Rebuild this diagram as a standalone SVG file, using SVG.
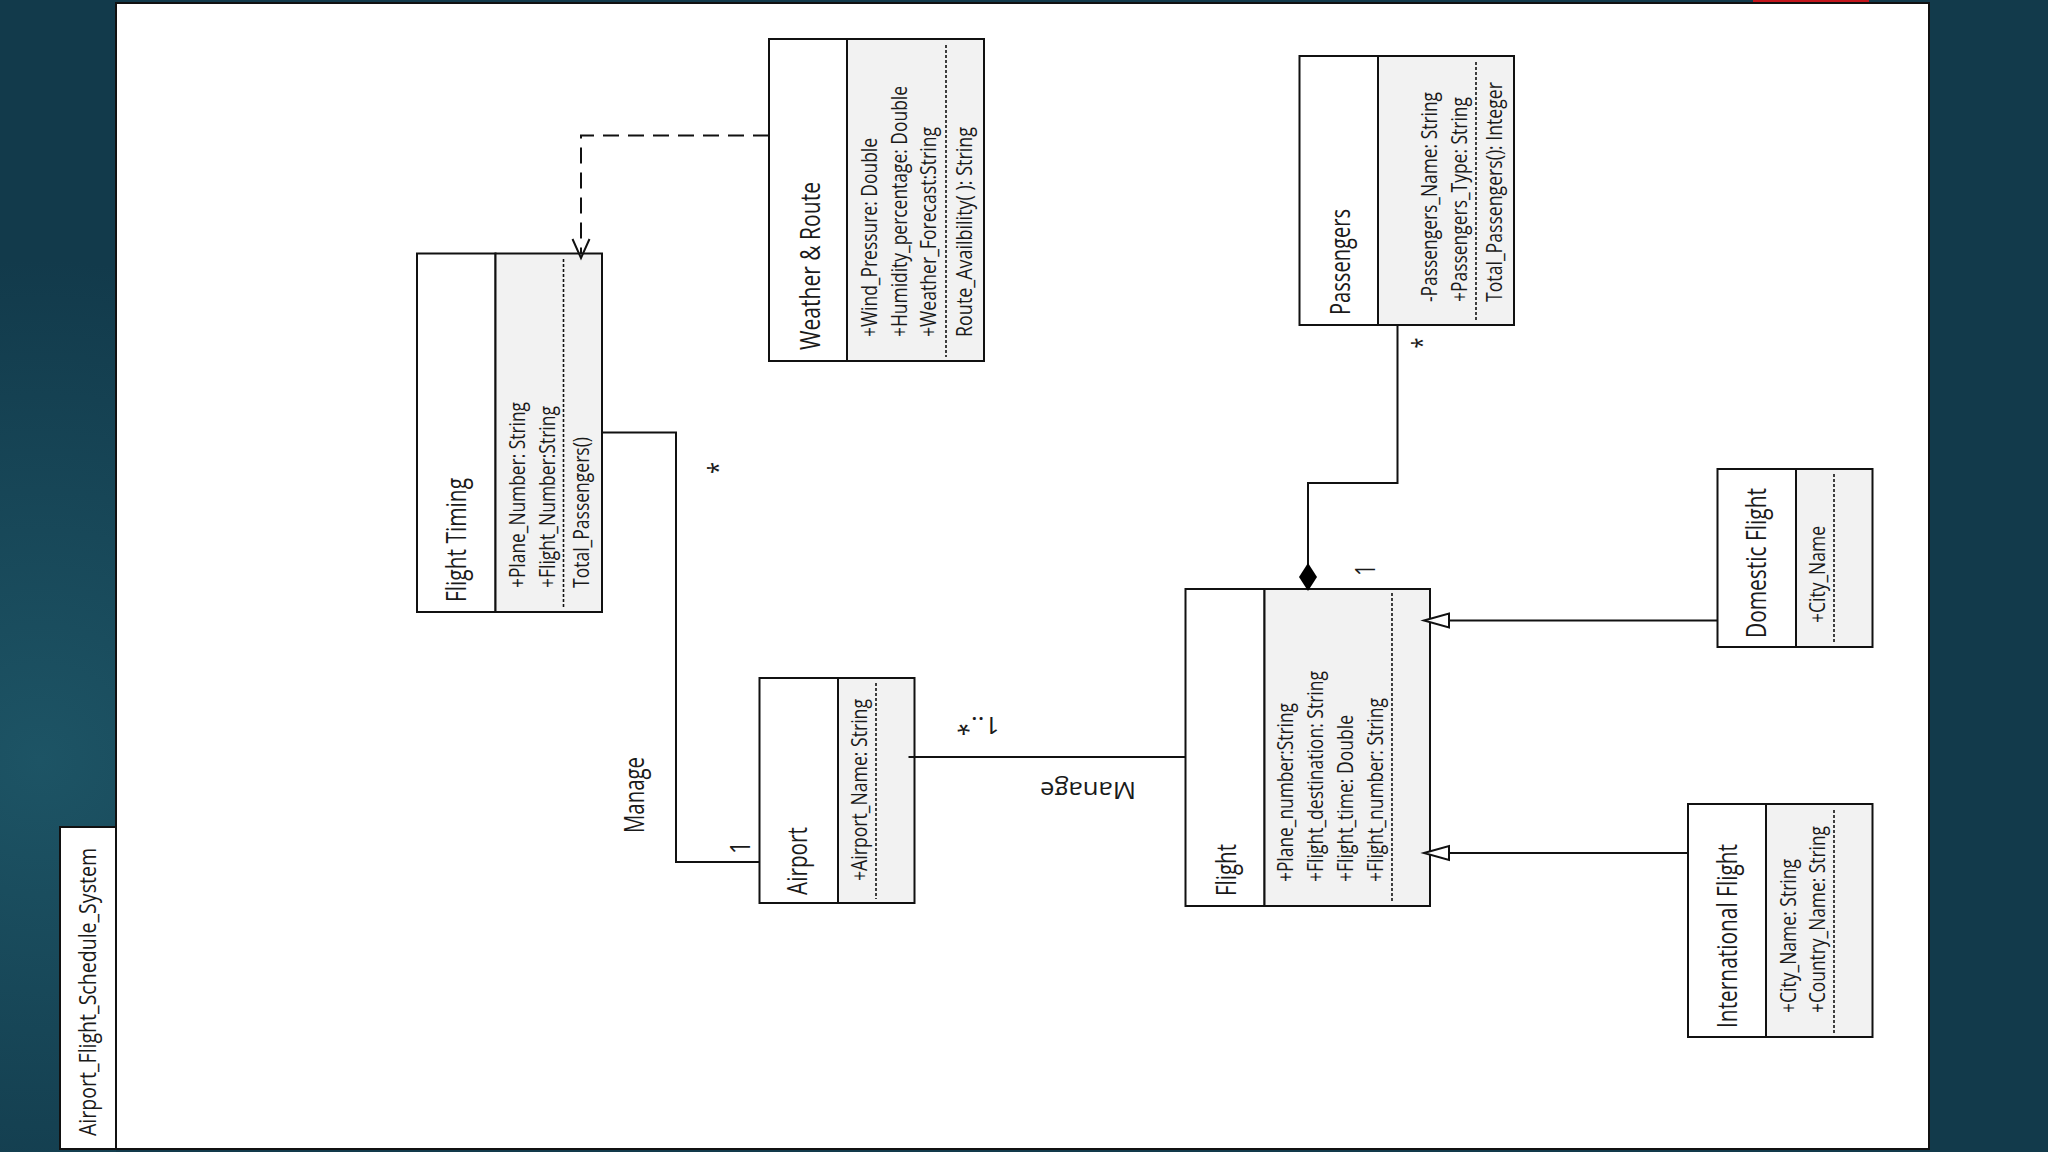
<svg xmlns="http://www.w3.org/2000/svg" width="2048" height="1152" viewBox="0 0 2048 1152">
<style>
text{font-family:"Open Sans","Noto Sans","Liberation Sans",sans-serif;fill:#1a1a1a}
.n{font-size:27.500px}
.a{font-size:21px}
.t{font-size:24px}
.l{font-size:23px}
.m{font-size:27px}
.h{fill:#fff;stroke:#111;stroke-width:2}
.b{fill:#f2f2f2;stroke:#111;stroke-width:2}
.d{fill:none;stroke:#111;stroke-width:1.6;stroke-dasharray:3 2}
.c{fill:none;stroke:#111;stroke-width:2}
</style>
<defs>
<radialGradient id="bg" gradientUnits="userSpaceOnUse" cx="40" cy="760" r="500">
<stop offset="0" stop-color="#1d5465"/><stop offset="1" stop-color="#123a4b"/>
</radialGradient>
</defs>
<rect width="2048" height="1152" fill="#123a4b"/>
<rect width="116" height="1152" fill="url(#bg)"/>
<rect x="1753" y="0" width="116" height="3.500" fill="#c4161c"/>
<rect id="panel" x="116" y="3" width="1813" height="1146" fill="#fff" stroke="#111" stroke-width="2"/>
<g id="system-tab">
<rect x="60" y="827" width="56" height="322" class="h"/>
<text class="t" transform="translate(96 1136) rotate(-90)" textLength="288" lengthAdjust="spacingAndGlyphs">Airport_Flight_Schedule_System</text>
</g>
<g id="flight-timing">
<rect x="417" y="253.500" width="78.500" height="358.500" class="h"/>
<rect x="495.500" y="253.500" width="106.500" height="358.500" class="b"/>
<path class="d" d="M563.500 259V607"/>
<text class="n" transform="translate(466 602) rotate(-90)" textLength="124" lengthAdjust="spacingAndGlyphs">Flight Timing</text>
<text class="a" transform="translate(525 588) rotate(-90)" textLength="186" lengthAdjust="spacingAndGlyphs">+Plane_Number: String</text>
<text class="a" transform="translate(555 588) rotate(-90)" textLength="182" lengthAdjust="spacingAndGlyphs">+Flight_Number:String</text>
<text class="a" transform="translate(589 588) rotate(-90)" textLength="151" lengthAdjust="spacingAndGlyphs">Total_Passengers()</text>
</g>
<g id="weather-route">
<rect x="769" y="39" width="78" height="322" class="h"/>
<rect x="847" y="39" width="137" height="322" class="b"/>
<path class="d" d="M946 45V357"/>
<text class="n" transform="translate(820 350) rotate(-90)" textLength="168" lengthAdjust="spacingAndGlyphs">Weather &amp; Route</text>
<text class="a" transform="translate(877 337) rotate(-90)" textLength="199" lengthAdjust="spacingAndGlyphs">+Wind_Pressure: Double</text>
<text class="a" transform="translate(906.500 337) rotate(-90)" textLength="251" lengthAdjust="spacingAndGlyphs">+Humidity_percentage: Double</text>
<text class="a" transform="translate(936 337) rotate(-90)" textLength="210" lengthAdjust="spacingAndGlyphs">+Weather_Forecast:String</text>
<text class="a" transform="translate(972 337) rotate(-90)" textLength="210" lengthAdjust="spacingAndGlyphs">Route_Availbility( ): String</text>
</g>
<g id="passengers">
<rect x="1299.500" y="56" width="78.500" height="269" class="h"/>
<rect x="1378" y="56" width="136" height="269" class="b"/>
<path class="d" d="M1476 62V321"/>
<text class="n" transform="translate(1350 315) rotate(-90)" textLength="106" lengthAdjust="spacingAndGlyphs">Passengers</text>
<text class="a" transform="translate(1437 302) rotate(-90)" textLength="210" lengthAdjust="spacingAndGlyphs">-Passengers_Name: String</text>
<text class="a" transform="translate(1467 302) rotate(-90)" textLength="205" lengthAdjust="spacingAndGlyphs">+Passengers_Type: String</text>
<text class="a" transform="translate(1502 302) rotate(-90)" textLength="220" lengthAdjust="spacingAndGlyphs">Total_Passengers(): Integer</text>
</g>
<g id="airport">
<rect x="759.500" y="678" width="78.500" height="225" class="h"/>
<rect x="838" y="678" width="76.500" height="225" class="b"/>
<path class="d" d="M876 683V899"/>
<text class="n" transform="translate(807 895) rotate(-90)" textLength="68" lengthAdjust="spacingAndGlyphs">Airport</text>
<text class="a" transform="translate(867 881) rotate(-90)" textLength="182" lengthAdjust="spacingAndGlyphs">+Airport_Name: String</text>
</g>
<g id="flight">
<rect x="1185.500" y="589" width="79" height="317" class="h"/>
<rect x="1264.500" y="589" width="165.500" height="317" class="b"/>
<path class="d" d="M1392 593V901"/>
<text class="n" transform="translate(1235.500 896) rotate(-90)" textLength="52" lengthAdjust="spacingAndGlyphs">Flight</text>
<text class="a" transform="translate(1293 882) rotate(-90)" textLength="179" lengthAdjust="spacingAndGlyphs">+Plane_number:String</text>
<text class="a" transform="translate(1323 882) rotate(-90)" textLength="211" lengthAdjust="spacingAndGlyphs">+Flight_destination: String</text>
<text class="a" transform="translate(1353 882) rotate(-90)" textLength="167" lengthAdjust="spacingAndGlyphs">+Flight_time: Double</text>
<text class="a" transform="translate(1383 882) rotate(-90)" textLength="184" lengthAdjust="spacingAndGlyphs">+Flight_number: String</text>
</g>
<g id="domestic-flight">
<rect x="1717.500" y="469" width="78.500" height="178" class="h"/>
<rect x="1796" y="469" width="76.500" height="178" class="b"/>
<path class="d" d="M1834 474V643"/>
<text class="n" transform="translate(1766 638) rotate(-90)" textLength="150" lengthAdjust="spacingAndGlyphs">Domestic Flight</text>
<text class="a" transform="translate(1825 623) rotate(-90)" textLength="97" lengthAdjust="spacingAndGlyphs">+City_Name</text>
</g>
<g id="international-flight">
<rect x="1688" y="804" width="78" height="233" class="h"/>
<rect x="1766" y="804" width="106.500" height="233" class="b"/>
<path class="d" d="M1834 810V1033"/>
<text class="n" transform="translate(1737 1028) rotate(-90)" textLength="184" lengthAdjust="spacingAndGlyphs">International Flight</text>
<text class="a" transform="translate(1796 1013) rotate(-90)" textLength="154" lengthAdjust="spacingAndGlyphs">+City_Name: String</text>
<text class="a" transform="translate(1825 1013) rotate(-90)" textLength="187" lengthAdjust="spacingAndGlyphs">+Country_Name: String</text>
</g>
<g id="connectors">
<path class="c" stroke-dasharray="16 9" d="M769 135.500H581V253"/>
<path class="c" d="M572.500 239L581 258L589.500 239"/>
<path class="c" d="M602 432.500H676V862H759"/>
<path class="c" d="M908.500 757H1185.500"/>
<path class="c" d="M1397.500 325V483H1308V565"/>
<path d="M1308 563L1317 577L1308 591L1299 577Z" fill="#000"/>
<path class="c" d="M1449 620.500H1717"/>
<path class="c" d="M1449 853H1688"/>
<path d="M1424 620.500L1449 613.500V627.500Z" fill="#fff" stroke="#111" stroke-width="2"/>
<path d="M1424 853L1449 846V860Z" fill="#fff" stroke="#111" stroke-width="2"/>
</g>
<g id="connector-labels">
<text class="m" transform="translate(728 474) rotate(-90)" textLength="12" lengthAdjust="spacingAndGlyphs">*</text>
<text class="m" transform="translate(1432 348.500) rotate(-90)" textLength="11" lengthAdjust="spacingAndGlyphs">*</text>
<text class="m" transform="translate(1375 576) rotate(-90)" textLength="12" lengthAdjust="spacingAndGlyphs">1</text>
<text class="m" transform="translate(750 854) rotate(-90)" textLength="13" lengthAdjust="spacingAndGlyphs">1</text>
<text class="n" transform="translate(644 833) rotate(-90)" textLength="76" lengthAdjust="spacingAndGlyphs">Manage</text>
<text class="l" transform="translate(1136 782) rotate(180)" textLength="96" lengthAdjust="spacingAndGlyphs">Manage</text>
<text class="l" transform="translate(999.500 717) rotate(180)" textLength="43" lengthAdjust="spacingAndGlyphs">1..*</text>
</g>
</svg>
